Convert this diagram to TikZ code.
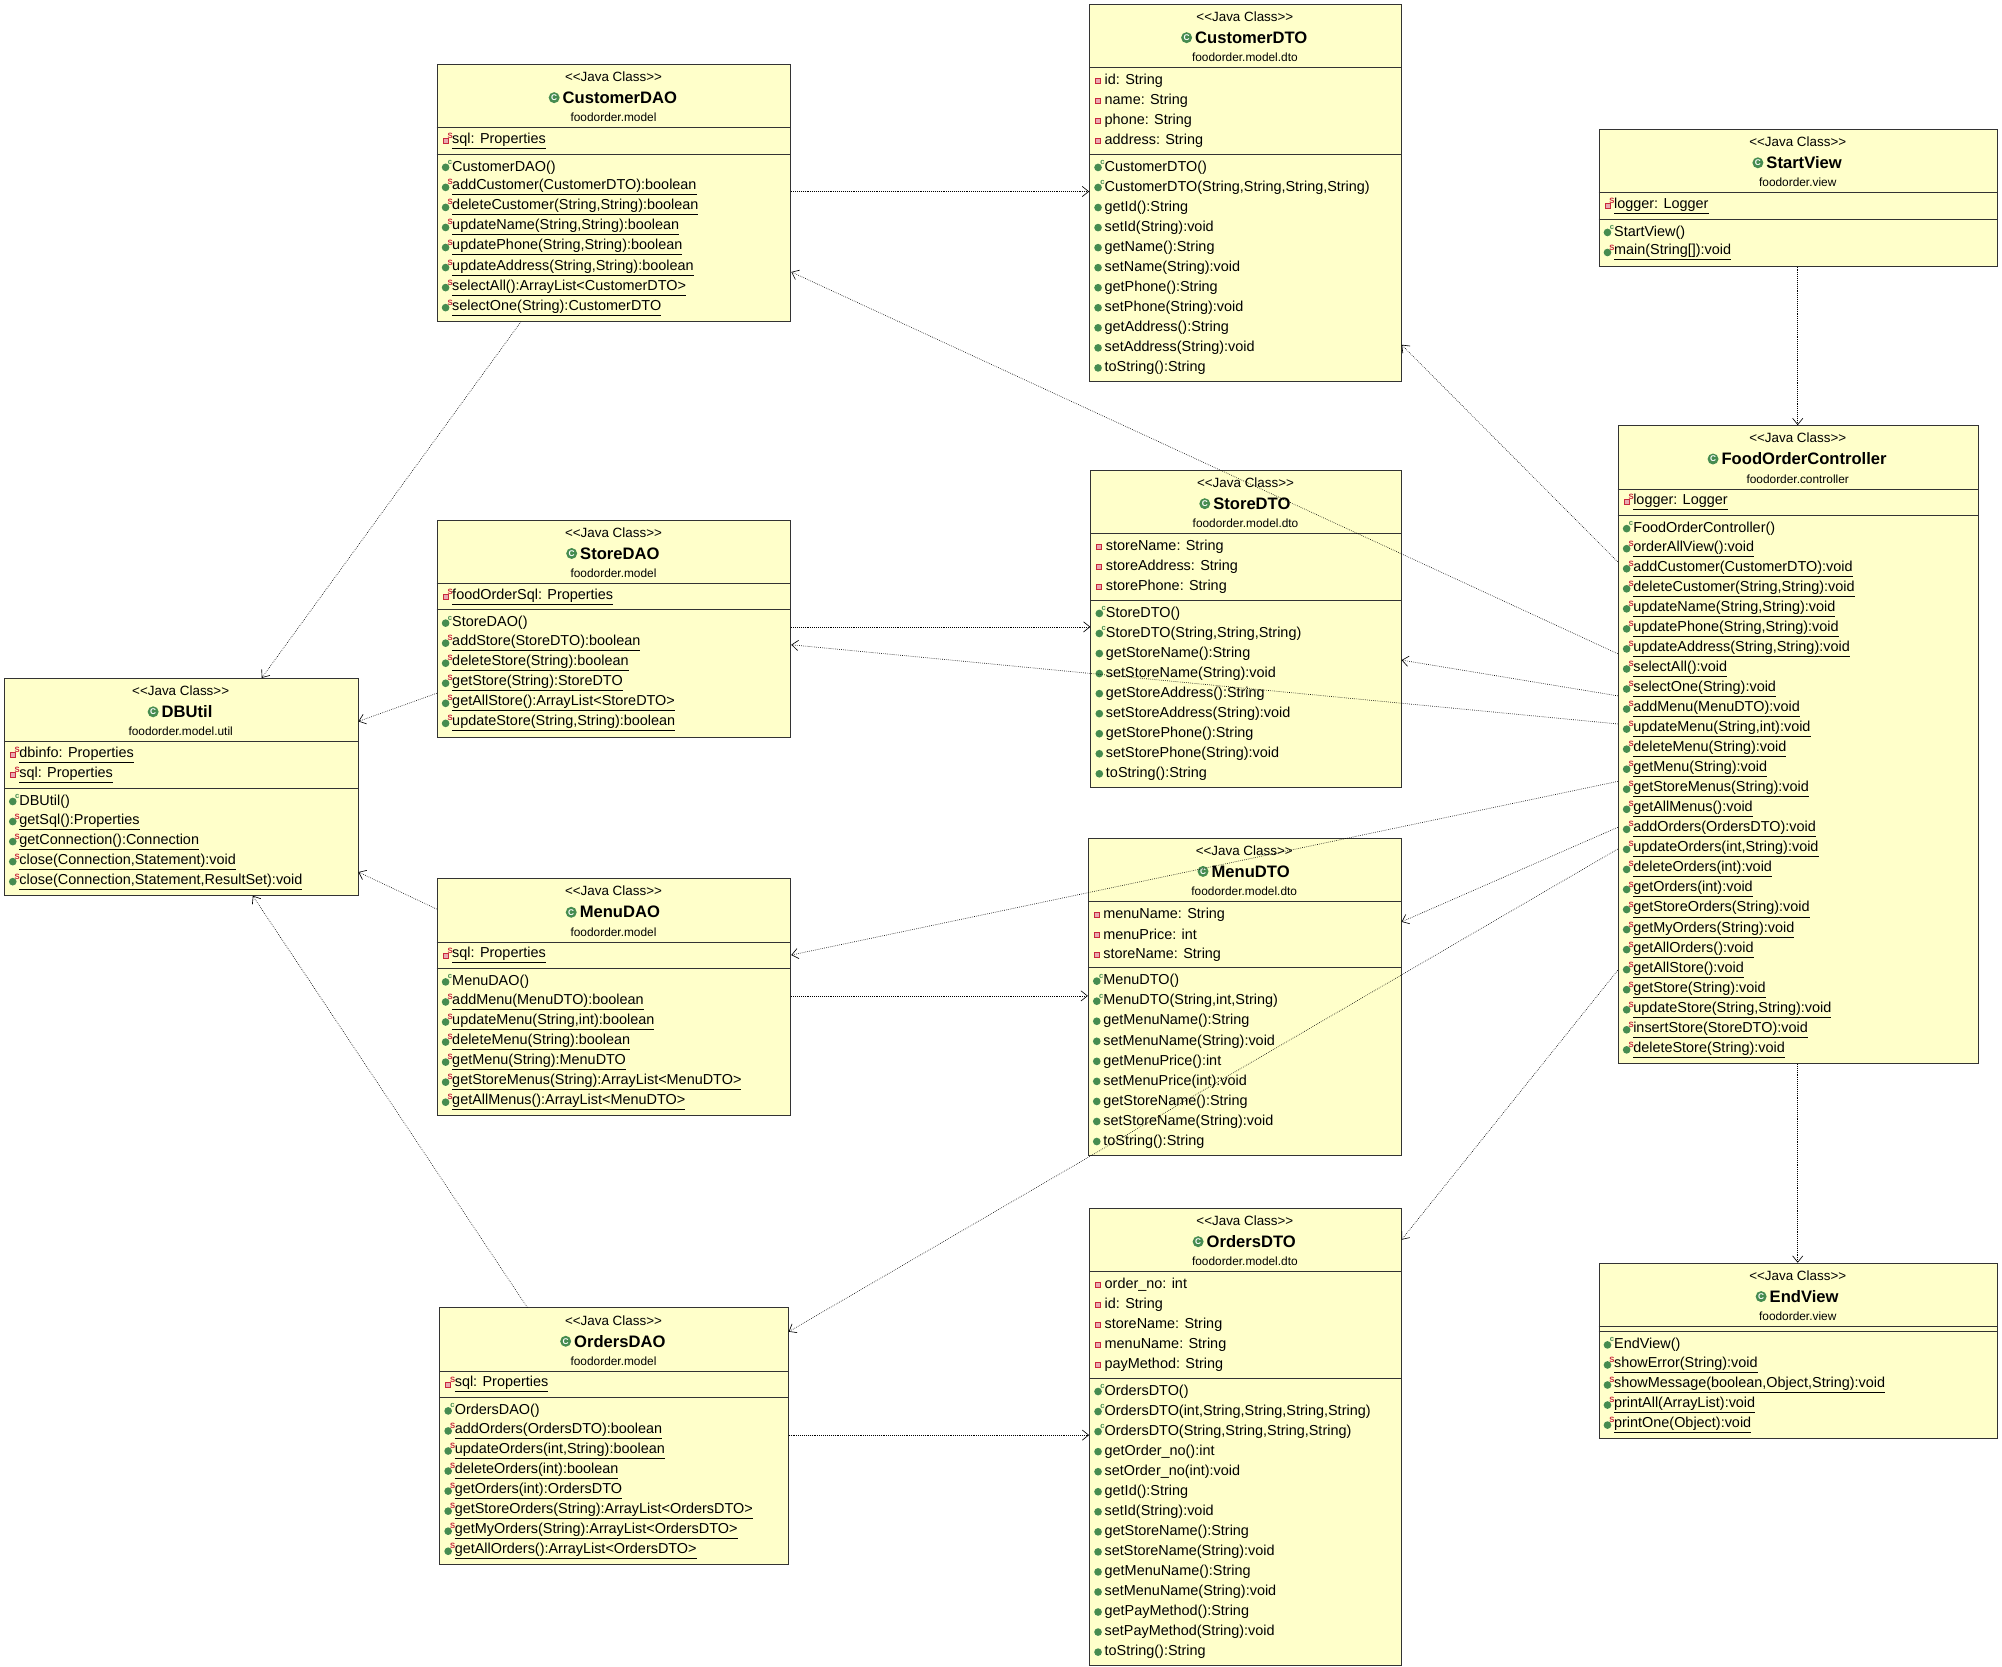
\documentclass[tikz,border=0pt]{standalone}
\usepackage{fontspec}
\setmainfont{Liberation Sans}
\usetikzlibrary{arrows.meta}
\definecolor{boxfill}{RGB}{255,255,202}
\definecolor{icongreen}{RGB}{70,140,80}
\definecolor{iconred}{RGB}{200,40,60}
\tikzset{
  box/.style={draw=black!80,fill=boxfill,line width=0.7pt,inner sep=0pt,rectangle},
  boxline/.style={draw=black!80,line width=0.7pt},
  memtxt/.style={anchor=west,inner sep=0pt,font=\fontsize{11.3}{12}\selectfont},
  conn/.style={densely dotted,line width=0.5pt,-{Straight Barb[length=5pt,width=8pt]}},
}
\newcommand\ubox[8]{%
  \pgfmathsetmacro\uha{#5==0?4:#5*15.7+5}%
  \pgfmathsetmacro\uhm{#6*15.7+5}%
  \pgfmathsetmacro\uhT{50+\uha+\uhm}%
  \node[box,minimum width=#4pt,minimum height=\uhT pt,anchor=north west] (#1) at (#2,#3) {};
  \draw[boxline] (#2,#3+50) -- ++(#4,0);
  \draw[boxline] (#2,#3+50+\uha) -- ++(#4,0);
  \coordinate (#1-a) at (#2,#3+50);
  \coordinate (#1-m) at (#2,#3+50+\uha);
  \node[inner sep=0pt,font=\fontsize{10.5}{12}\selectfont] (#1-s) at (#2+#4/2,#3+10) {<{}<Java Class>{}>};
  \node[inner sep=0pt,font=\fontsize{13}{14}\selectfont\bfseries] (#1-t) at (#2+#4/2+5,#3+26.5) {#7};
  \fill[icongreen] ([xshift=-6.5pt]#1-t.west) circle (4.3pt);
  \node[inner sep=0pt,text=white,font=\fontsize{6.5}{6}\selectfont\bfseries] at ([xshift=-6.5pt]#1-t.west) {C};
  \node[inner sep=0pt,font=\fontsize{9.3}{10}\selectfont] (#1-p) at (#2+#4/2,#3+42) {#8};
}
\newcommand\mempos[2]{\path ([xshift=7pt,yshift={-2.5pt-(#2-0.5)*15.7pt}]#1) coordinate (mp);}
\newcommand\fld[3]{\mempos{#1}{#2}%
  \draw[iconred,fill=iconred!40,line width=0.6pt] ([xshift=-2pt,yshift=-2pt]mp) rectangle ([xshift=2pt,yshift=2pt]mp);
  \node[memtxt] at ([xshift=5pt]mp) {#3};}
\newcommand\sfld[3]{\mempos{#1}{#2}%
  \draw[iconred,fill=iconred!40,line width=0.6pt] ([xshift=-2pt,yshift=-2pt]mp) rectangle ([xshift=2pt,yshift=2pt]mp);
  \node[inner sep=0pt,text=iconred,font=\fontsize{6}{6}\selectfont\bfseries] at ([xshift=3.5pt,yshift=4pt]mp) {S};
  \node[memtxt] at ([xshift=5pt]mp) {\underline{#3}};}
\newcommand\mth[3]{\mempos{#1}{#2}%
  \fill[icongreen] (mp) circle (3pt);
  \node[memtxt] at ([xshift=5pt]mp) {#3};}
\newcommand\smth[3]{\mempos{#1}{#2}%
  \fill[icongreen] (mp) circle (3pt);
  \node[inner sep=0pt,text=iconred,font=\fontsize{6}{6}\selectfont\bfseries] at ([xshift=3.5pt,yshift=4pt]mp) {S};
  \node[memtxt] at ([xshift=5pt]mp) {\underline{#3}};}
\newcommand\ctor[3]{\mempos{#1}{#2}%
  \fill[icongreen] (mp) circle (3pt);
  \node[inner sep=0pt,text=icongreen,font=\fontsize{6}{6}\selectfont\bfseries] at ([xshift=3.5pt,yshift=4pt]mp) {c};
  \node[memtxt] at ([xshift=5pt]mp) {#3};}
\begin{document}
\begin{tikzpicture}[x=1pt,y=-1pt]
\useasboundingbox (0,0) rectangle (1568,1305);
% CustomerDTO
\ubox{cdto}{853}{3}{244}{4}{11}{CustomerDTO}{foodorder.model.dto}
\fld{cdto-a}{1}{id: String}\fld{cdto-a}{2}{name: String}\fld{cdto-a}{3}{phone: String}\fld{cdto-a}{4}{address: String}
\ctor{cdto-m}{1}{CustomerDTO()}\ctor{cdto-m}{2}{CustomerDTO(String,String,String,String)}
\mth{cdto-m}{3}{getId():String}\mth{cdto-m}{4}{setId(String):void}\mth{cdto-m}{5}{getName():String}
\mth{cdto-m}{6}{setName(String):void}\mth{cdto-m}{7}{getPhone():String}\mth{cdto-m}{8}{setPhone(String):void}
\mth{cdto-m}{9}{getAddress():String}\mth{cdto-m}{10}{setAddress(String):void}\mth{cdto-m}{11}{toString():String}
% CustomerDAO
\ubox{cdao}{342}{50}{277}{1}{8}{CustomerDAO}{foodorder.model}
\sfld{cdao-a}{1}{sql: Properties}
\ctor{cdao-m}{1}{CustomerDAO()}\smth{cdao-m}{2}{addCustomer(CustomerDTO):boolean}
\smth{cdao-m}{3}{deleteCustomer(String,String):boolean}\smth{cdao-m}{4}{updateName(String,String):boolean}
\smth{cdao-m}{5}{updatePhone(String,String):boolean}\smth{cdao-m}{6}{updateAddress(String,String):boolean}
\smth{cdao-m}{7}{selectAll():ArrayList<CustomerDTO>}\smth{cdao-m}{8}{selectOne(String):CustomerDTO}
% StartView
\ubox{sv}{1252}{101}{312}{1}{2}{StartView}{foodorder.view}
\sfld{sv-a}{1}{logger: Logger}
\ctor{sv-m}{1}{StartView()}\smth{sv-m}{2}{main(String[]):void}
% FoodOrderController
\ubox{foc}{1267}{333}{282}{1}{27}{FoodOrderController}{foodorder.controller}
\sfld{foc-a}{1}{logger: Logger}
\ctor{foc-m}{1}{FoodOrderController()}
\smth{foc-m}{2}{orderAllView():void}\smth{foc-m}{3}{addCustomer(CustomerDTO):void}
\smth{foc-m}{4}{deleteCustomer(String,String):void}\smth{foc-m}{5}{updateName(String,String):void}
\smth{foc-m}{6}{updatePhone(String,String):void}\smth{foc-m}{7}{updateAddress(String,String):void}
\smth{foc-m}{8}{selectAll():void}\smth{foc-m}{9}{selectOne(String):void}
\smth{foc-m}{10}{addMenu(MenuDTO):void}\smth{foc-m}{11}{updateMenu(String,int):void}
\smth{foc-m}{12}{deleteMenu(String):void}\smth{foc-m}{13}{getMenu(String):void}
\smth{foc-m}{14}{getStoreMenus(String):void}\smth{foc-m}{15}{getAllMenus():void}
\smth{foc-m}{16}{addOrders(OrdersDTO):void}\smth{foc-m}{17}{updateOrders(int,String):void}
\smth{foc-m}{18}{deleteOrders(int):void}\smth{foc-m}{19}{getOrders(int):void}
\smth{foc-m}{20}{getStoreOrders(String):void}\smth{foc-m}{21}{getMyOrders(String):void}
\smth{foc-m}{22}{getAllOrders():void}\smth{foc-m}{23}{getAllStore():void}
\smth{foc-m}{24}{getStore(String):void}\smth{foc-m}{25}{updateStore(String,String):void}
\smth{foc-m}{26}{insertStore(StoreDTO):void}\smth{foc-m}{27}{deleteStore(String):void}
% StoreDTO
\ubox{sdto}{854}{368}{243}{3}{9}{StoreDTO}{foodorder.model.dto}
\fld{sdto-a}{1}{storeName: String}\fld{sdto-a}{2}{storeAddress: String}\fld{sdto-a}{3}{storePhone: String}
\ctor{sdto-m}{1}{StoreDTO()}\ctor{sdto-m}{2}{StoreDTO(String,String,String)}
\mth{sdto-m}{3}{getStoreName():String}\mth{sdto-m}{4}{setStoreName(String):void}
\mth{sdto-m}{5}{getStoreAddress():String}\mth{sdto-m}{6}{setStoreAddress(String):void}
\mth{sdto-m}{7}{getStorePhone():String}\mth{sdto-m}{8}{setStorePhone(String):void}\mth{sdto-m}{9}{toString():String}
% StoreDAO
\ubox{sdao}{342}{407}{277}{1}{6}{StoreDAO}{foodorder.model}
\sfld{sdao-a}{1}{foodOrderSql: Properties}
\ctor{sdao-m}{1}{StoreDAO()}\smth{sdao-m}{2}{addStore(StoreDTO):boolean}
\smth{sdao-m}{3}{deleteStore(String):boolean}\smth{sdao-m}{4}{getStore(String):StoreDTO}
\smth{sdao-m}{5}{getAllStore():ArrayList<StoreDTO>}\smth{sdao-m}{6}{updateStore(String,String):boolean}
% DBUtil
\ubox{db}{3}{531}{277}{2}{5}{DBUtil}{foodorder.model.util}
\sfld{db-a}{1}{dbinfo: Properties}\sfld{db-a}{2}{sql: Properties}
\ctor{db-m}{1}{DBUtil()}\smth{db-m}{2}{getSql():Properties}\smth{db-m}{3}{getConnection():Connection}
\smth{db-m}{4}{close(Connection,Statement):void}\smth{db-m}{5}{close(Connection,Statement,ResultSet):void}
% MenuDTO
\ubox{mdto}{852}{656}{245}{3}{9}{MenuDTO}{foodorder.model.dto}
\fld{mdto-a}{1}{menuName: String}\fld{mdto-a}{2}{menuPrice: int}\fld{mdto-a}{3}{storeName: String}
\ctor{mdto-m}{1}{MenuDTO()}\ctor{mdto-m}{2}{MenuDTO(String,int,String)}
\mth{mdto-m}{3}{getMenuName():String}\mth{mdto-m}{4}{setMenuName(String):void}
\mth{mdto-m}{5}{getMenuPrice():int}\mth{mdto-m}{6}{setMenuPrice(int):void}
\mth{mdto-m}{7}{getStoreName():String}\mth{mdto-m}{8}{setStoreName(String):void}\mth{mdto-m}{9}{toString():String}
% MenuDAO
\ubox{mdao}{342}{688}{277}{1}{7}{MenuDAO}{foodorder.model}
\sfld{mdao-a}{1}{sql: Properties}
\ctor{mdao-m}{1}{MenuDAO()}\smth{mdao-m}{2}{addMenu(MenuDTO):boolean}
\smth{mdao-m}{3}{updateMenu(String,int):boolean}\smth{mdao-m}{4}{deleteMenu(String):boolean}
\smth{mdao-m}{5}{getMenu(String):MenuDTO}\smth{mdao-m}{6}{getStoreMenus(String):ArrayList<MenuDTO>}
\smth{mdao-m}{7}{getAllMenus():ArrayList<MenuDTO>}
% OrdersDTO
\ubox{odto}{853}{946}{244}{5}{14}{OrdersDTO}{foodorder.model.dto}
\fld{odto-a}{1}{order\_no: int}\fld{odto-a}{2}{id: String}\fld{odto-a}{3}{storeName: String}
\fld{odto-a}{4}{menuName: String}\fld{odto-a}{5}{payMethod: String}
\ctor{odto-m}{1}{OrdersDTO()}\ctor{odto-m}{2}{OrdersDTO(int,String,String,String,String)}
\ctor{odto-m}{3}{OrdersDTO(String,String,String,String)}
\mth{odto-m}{4}{getOrder\_no():int}\mth{odto-m}{5}{setOrder\_no(int):void}
\mth{odto-m}{6}{getId():String}\mth{odto-m}{7}{setId(String):void}
\mth{odto-m}{8}{getStoreName():String}\mth{odto-m}{9}{setStoreName(String):void}
\mth{odto-m}{10}{getMenuName():String}\mth{odto-m}{11}{setMenuName(String):void}
\mth{odto-m}{12}{getPayMethod():String}\mth{odto-m}{13}{setPayMethod(String):void}\mth{odto-m}{14}{toString():String}
% OrdersDAO
\ubox{odao}{344}{1024}{273}{1}{8}{OrdersDAO}{foodorder.model}
\sfld{odao-a}{1}{sql: Properties}
\ctor{odao-m}{1}{OrdersDAO()}\smth{odao-m}{2}{addOrders(OrdersDTO):boolean}
\smth{odao-m}{3}{updateOrders(int,String):boolean}\smth{odao-m}{4}{deleteOrders(int):boolean}
\smth{odao-m}{5}{getOrders(int):OrdersDTO}\smth{odao-m}{6}{getStoreOrders(String):ArrayList<OrdersDTO>}
\smth{odao-m}{7}{getMyOrders(String):ArrayList<OrdersDTO>}\smth{odao-m}{8}{getAllOrders():ArrayList<OrdersDTO>}
% EndView
\ubox{ev}{1252}{989}{312}{0}{5}{EndView}{foodorder.view}
\ctor{ev-m}{1}{EndView()}\smth{ev-m}{2}{showError(String):void}
\smth{ev-m}{3}{showMessage(boolean,Object,String):void}\smth{ev-m}{4}{printAll(ArrayList):void}
\smth{ev-m}{5}{printOne(Object):void}
% connectors
\draw[conn] (cdao.east |- 0,150) -- (cdto.west |- 0,150);
\draw[conn] (foc.west |- 0,440) -- (cdto.east |- 0,270);
\draw[conn] (foc.west |- 0,512) -- (cdao.east |- 0,213);
\draw[conn] (foc.west |- 0,545) -- (sdto.east |- 0,517);
\draw[conn] (foc.west |- 0,567) -- (sdao.east |- 0,505);
\draw[conn] (sdao.east |- 0,491) -- (sdto.west |- 0,491);
\draw[conn] (sdao.west |- 0,543) -- (db.east |- 0,565);
\draw[conn] (cdao.south -| 408,0) -- (db.north -| 205,0);
\draw[conn] (mdao.west |- 0,712) -- (db.east |- 0,683);
\draw[conn] (odao.north -| 413,0) -- (db.south -| 198,0);
\draw[conn] (foc.west |- 0,612) -- (mdao.east |- 0,748);
\draw[conn] (mdao.east |- 0,780) -- (mdto.west |- 0,780);
\draw[conn] (foc.west |- 0,648) -- (mdto.east |- 0,722);
\draw[conn] (foc.west |- 0,665) -- (odao.east |- 0,1043);
\draw[conn] (odao.east |- 0,1124) -- (odto.west |- 0,1124);
\draw[conn] (foc.west |- 0,760) -- (odto.east |- 0,971);
\draw[conn] (sv.south -| 1408,0) -- (foc.north -| 1408,0);
\draw[conn] (foc.south -| 1408,0) -- (ev.north -| 1408,0);
\end{tikzpicture}
\end{document}
